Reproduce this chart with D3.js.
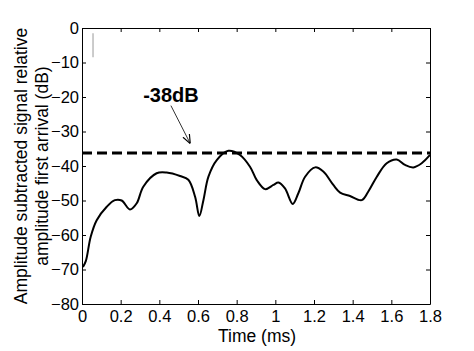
<!DOCTYPE html>
<html>
<head>
<meta charset="utf-8">
<script src="https://cdn.jsdelivr.net/npm/d3@7"></script>
<style>
  body { margin: 0; background: #fff; }
  svg { display: block; }
</style>
</head>
<body>
<svg id="chart"></svg>
<script>
// --- data ---
const timeMs = [0.005, 0.02, 0.045, 0.076, 0.128, 0.17, 0.205, 0.248, 0.283, 0.317, 0.386, 0.438,
  0.507, 0.55, 0.585, 0.607, 0.628, 0.654, 0.697, 0.757, 0.817, 0.869, 0.904, 0.947, 0.99,
  1.016, 1.05, 1.09, 1.119, 1.154, 1.206, 1.248, 1.3, 1.335, 1.386, 1.447, 1.481, 1.525,
  1.576, 1.628, 1.671, 1.714, 1.757, 1.8];
const amplitudeDb = [-69.3, -67.5, -60.5, -55.7, -51.8, -49.9, -50.0, -52.6, -50.8, -46, -42.1, -41.9,
  -42.9, -44, -48.9, -54.5, -49.9, -43.1, -38.3, -35.6, -36.8, -40.2, -44.1, -46.7, -45.5,
  -44.8, -46.5, -51.0, -47.9, -43.1, -40.4, -41.6, -45.5, -47.7, -48.7, -49.9, -47.4, -43.1,
  -39.2, -38.1, -39.7, -40.4, -39.2, -36.8];
const thresholdDb = -36.2;
const thresholdLabel = "-38dB";
const xTicks = [0, 0.2, 0.4, 0.6, 0.8, 1, 1.2, 1.4, 1.6, 1.8];
const yTicks = [0, -10, -20, -30, -40, -50, -60, -70, -80];

const width = 474, height = 351;
const margin = { top: 28, right: 44, bottom: 47, left: 82 };
const font = "'Liberation Sans', Arial, sans-serif";

const svg = d3.select("#chart").attr("width", width).attr("height", height);

const x = d3.scaleLinear().domain([0, 1.8]).range([margin.left, width - margin.right]);
const y = d3.scaleLinear().domain([-80, 0]).range([height - margin.bottom, margin.top]);

// box + inward ticks (matlab style)
const tickLen = 4;
const axes = [
  { ax: d3.axisBottom(x).tickValues(xTicks).tickFormat(d3.format("")), t: `translate(0,${y(-80)})`, labels: true, pad: 6 },
  { ax: d3.axisTop(x).tickValues(xTicks), t: `translate(0,${y(0)})`, labels: false, pad: 3 },
  { ax: d3.axisLeft(y).tickValues(yTicks).tickFormat(d3.format("")), t: `translate(${x(0)},0)`, labels: true, pad: 3 },
  { ax: d3.axisRight(y).tickValues(yTicks), t: `translate(${x(1.8)},0)`, labels: false, pad: 3 }
];
axes.forEach(a => {
  const g = svg.append("g").attr("transform", a.t)
    .call(a.ax.tickSizeInner(-tickLen).tickSizeOuter(0).tickPadding(a.pad));
  g.select(".domain").attr("stroke", "#000").attr("stroke-width", 1);
  g.selectAll(".tick line").attr("stroke", "#000");
  g.selectAll(".tick text")
    .style("font-family", font).style("font-size", "16.5px").attr("fill", "#000");
  if (!a.labels) g.selectAll(".tick text").remove();
});

// small gray artifact mark near top-left
svg.append("line")
  .attr("x1", x(0.057)).attr("x2", x(0.057))
  .attr("y1", y(-1.5)).attr("y2", y(-8.5))
  .attr("stroke", "#bbb").attr("stroke-width", 1.5);

// threshold dashed line
svg.append("line")
  .attr("x1", x(0)).attr("x2", x(1.8))
  .attr("y1", y(thresholdDb)).attr("y2", y(thresholdDb))
  .attr("stroke", "#000").attr("stroke-width", 3)
  .attr("stroke-dasharray", "10,5");

// signal curve
const line = d3.line()
  .x((d, i) => x(timeMs[i]))
  .y(d => y(d))
  .curve(d3.curveCatmullRom.alpha(0.5));
svg.append("path")
  .datum(amplitudeDb)
  .attr("d", line)
  .attr("fill", "none")
  .attr("stroke", "#000")
  .attr("stroke-width", 2);

// annotation arrow + label
svg.append("defs").append("marker")
  .attr("id", "arrow")
  .attr("viewBox", "0 0 10 10")
  .attr("refX", 10).attr("refY", 5)
  .attr("markerWidth", 9).attr("markerHeight", 9)
  .attr("orient", "auto")
  .append("path")
  .attr("d", "M0,1 L10,5 L0,9")
  .attr("fill", "none").attr("stroke", "#000").attr("stroke-width", 1.3);

svg.append("line")
  .attr("x1", x(0.46)).attr("y1", y(-22.5))
  .attr("x2", x(0.56)).attr("y2", y(-33.5))
  .attr("stroke", "#333").attr("stroke-width", 1)
  .attr("marker-end", "url(#arrow)");

svg.append("text")
  .attr("x", x(0.46)).attr("y", y(-21.5))
  .attr("text-anchor", "middle")
  .style("font-family", font).style("font-size", "20px").style("font-weight", "bold")
  .text(thresholdLabel);

// axis titles
svg.append("text")
  .attr("x", (x(0) + x(1.8)) / 2 + 1).attr("y", 342)
  .attr("text-anchor", "middle")
  .style("font-family", font).style("font-size", "17.5px")
  .text("Time (ms)");

const yTitle = svg.append("text")
  .attr("transform", `translate(0,${(y(0) + y(-80)) / 2}) rotate(-90)`)
  .attr("text-anchor", "middle")
  .style("font-family", font).style("font-size", "17.5px");
yTitle.append("tspan").attr("x", 0).attr("y", 27).text("Amplitude subtracted signal relative");
yTitle.append("tspan").attr("x", 0).attr("y", 48).text("amplitude first arrival (dB)");
</script>
</body>
</html>
